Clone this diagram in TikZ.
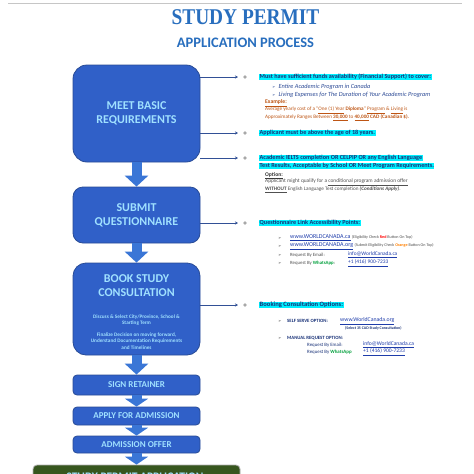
\documentclass[tikz,border=0pt]{standalone}
\usepackage{fontspec}
\setmainfont{Carlito}
\newfontfamily\titlefont{Liberation Serif}
\newfontfamily\symfont{DejaVu Sans}
\usetikzlibrary{arrows.meta}
\definecolor{boxblue}{RGB}{48,96,200}
\definecolor{boxedge}{RGB}{40,75,150}
\definecolor{arrowblue}{RGB}{58,118,214}
\definecolor{boxtext}{RGB}{160,225,255}
\definecolor{titleblue}{RGB}{40,110,190}
\definecolor{hlcyan}{RGB}{0,240,255}
\definecolor{hldark}{RGB}{25,50,120}
\definecolor{itblue}{RGB}{45,75,150}
\definecolor{brown}{RGB}{190,85,20}
\definecolor{graytext}{RGB}{80,80,80}
\definecolor{linkblue}{RGB}{30,60,170}
\definecolor{wagreen}{RGB}{0,160,60}
\definecolor{darkgreen}{RGB}{55,86,30}
\definecolor{conncol}{RGB}{50,80,150}
\newcommand{\hlbox}[1]{{\setlength{\fboxsep}{0.5pt}\colorbox{hlcyan}{\color{hldark}\bfseries #1}}}
\newcommand{\myfs}[1]{\fontsize{#1}{#1}\selectfont}
\newcommand{\arr}{{\symfont\myfs{4}➢}}
\tikzset{
  x=1pt, y=-1pt,
  mainbox/.style={draw=boxedge, line width=0.8pt, fill=boxblue, text=boxtext, inner sep=0pt,
    font=\bfseries\myfs{12}, align=center},
  smallbox/.style={mainbox, rounded corners=4pt, minimum width=127pt, font=\bfseries\myfs{9}},
  blockarrow/.style={draw=arrowblue, line width=10pt, -{Triangle[width=23pt,length=11pt]}},
  blockarrowshort/.style={draw=arrowblue, line width=10pt, -{Triangle[width=23pt,length=8pt]}},
  conn/.style={draw=conncol, line width=0.5pt, -{Stealth[length=3pt,width=3pt]}},
  bul/.style={circle, draw=graytext, line width=0.3pt, inner sep=0pt, minimum size=2.6pt},
  rt/.style={anchor=west, inner sep=0pt, font=\myfs{6.2}},
  boxsmall/.style={inner sep=0pt, text=boxtext, font=\bfseries\myfs{5.2}, align=center},
}
\begin{document}
\begin{tikzpicture}
\useasboundingbox[fill=white] (0,0) rectangle (474,474);
% top rule
\coordinate (ruleL) at (8,3);
\coordinate (ruleR) at (462,3);
\draw[gray!45, line width=0.8pt] (ruleL) -- (ruleR);
% titles
\node[inner sep=0pt, text=titleblue] (title) at (245.5,17.5)
  {\scalebox{0.86}[1]{\titlefont\bfseries\myfs{22.5}STUDY PERMIT}};
\node[inner sep=0pt, text=titleblue, font=\bfseries\myfs{14.5}] (subtitle) at (245.5,42.5) {APPLICATION PROCESS};

% right-side connector ends
\coordinate (t1) at (238,77);
\coordinate (t2) at (238,133);
\coordinate (t3) at (238,158);
\coordinate (t4) at (238,223);
\coordinate (t5) at (238,305);

% boxes
\node[mainbox, rounded corners=14pt, minimum width=127pt, minimum height=97pt] (b1) at (136.5,113.5) {MEET BASIC\\[2pt]REQUIREMENTS};
\node[mainbox, rounded corners=10pt, minimum width=127pt, minimum height=56pt] (b2) at (136.5,215) {SUBMIT\\[2pt]QUESTIONNAIRE};
\node[mainbox, rounded corners=13pt, minimum width=127pt, minimum height=92pt] (b3) at (136.5,309) {};
\node[inner sep=0pt, text=boxtext, font=\bfseries\myfs{12}, align=center] (b3t) at (136.5,285.5) {BOOK STUDY\\[2pt]CONSULTATION};
\node[boxsmall] (b3s1) at (136.5,320) {Discuss \& Select City/Province, School \&\\[1pt]Starting Term};
\node[boxsmall] (b3s2) at (136.5,341) {Finalize Decision on moving forward,\\[1pt]Understand Documentation Requirements\\[1pt]and Timelines};
\node[smallbox, minimum height=20pt] (b4) at (136.5,385) {SIGN RETAINER};
\node[smallbox, minimum height=18pt] (b5) at (136.5,416) {APPLY FOR ADMISSION};
\node[smallbox, minimum height=17pt] (b6) at (136.5,444.5) {ADMISSION OFFER};
\node[draw=gray!60, line width=0.8pt, fill=darkgreen, rounded corners=4pt, minimum width=207pt, minimum height=26pt, inner sep=0pt] (b7) at (136.5,478) {};
\node[inner sep=0pt, text=boxtext, font=\bfseries\myfs{11.5}] (b7t) at (135,477) {STUDY PERMIT APPLICATION};

% block arrows
\draw[blockarrow] (b1.south) -- (b2.north);
\draw[blockarrow] (b2.south) -- (b3.north);
\draw[blockarrow] (b3.south) -- (b4.north);
\draw[blockarrowshort] (b4.south) -- (b5.north);
\draw[blockarrowshort] (b5.south) -- (b6.north);
\draw[blockarrowshort] (b6.south) -- (b7.north);

% connectors
\draw[conn] (b1.east |- t1) -- (t1);
\draw[conn] (b1.east |- t2) -- (t2);
\draw[conn] (b1.east |- t3) -- (t3);
\draw[conn] (b2.east |- t4) -- (t4);
\draw[conn] (b3.east |- t5) -- (t5);
\node[bul] (o1) at (245,77) {};
\node[bul] (o2) at (245,133) {};
\node[bul] (o3) at (245,158) {};
\node[bul] (o4) at (245,223) {};
\node[bul] (o5) at (245,305) {};

% block 1 texts
\node[rt] (r1) at (259,77) {\hlbox{Must have sufficient funds availability (Financial Support) to cover:}};
\node[rt, text=itblue, font=\myfs{6.3}] (r1a) at (272,87) {\arr\hspace{3pt}\itshape Entire Academic Program in Canada};
\node[rt, text=itblue, font=\myfs{6.3}] (r1b) at (272,95) {\arr\hspace{3pt}\itshape Living Expenses for The Duration of Your Academic Program};
\node[rt, text=brown, font=\bfseries\myfs{5.7}] (r1c) at (265,103) {\underline{Example:}};
\node[rt, text=brown, font=\myfs{5.2}] (r1d) at (265,110.5) {Average yearly cost of a ``\underline{One (1) Year} \textbf{Diploma}'' \underline{Program} \& \underline{Living} is};
\node[rt, text=brown, font=\myfs{5.2}] (r1e) at (265,118) {Approximately Ranges Between \underline{\textbf{30,000}} to \underline{\textbf{40,000}} \textbf{CAD (Canadian \$).}};

% block 2
\node[rt] (r2) at (259,133) {\hlbox{Applicant must be above the age of 18 years.}};

% block 3
\node[rt] (r3a) at (259,158) {\hlbox{Academic IELTS completion OR CELPIP OR any English Language}};
\node[rt] (r3b) at (259,166.2) {\hlbox{Test Results, Acceptable by School OR Meet Program Requirements.}};
\node[rt, text=graytext!70!black, font=\bfseries\myfs{5.6}] (r3c) at (265,175.5) {\underline{Option:}};
\node[rt, text=graytext, font=\myfs{5.4}] (r3d) at (265,182.5) {Applicant might qualify for a \underline{conditional program admission offer}};
\node[rt, text=graytext, font=\myfs{5.2}] (r3e) at (265,189.5) {\underline{\textbf{WITHOUT}} English Language Test completion \textbf{\textit{(Conditions Apply)}}.};

% block 4
\node[rt] (r4) at (259,223) {\hlbox{Questionnaire Link Accessibility Points:}};
\node[rt, text=graytext] (r4a0) at (278,238) {\arr};
\node[rt, text=linkblue, font=\myfs{6}] (r4a) at (290,238) {\underline{www.WORLDCANADA.ca} {\color{graytext}\myfs{4.1}(Eligibility Check \textbf{\color{red}Red} Button On Top)}};
\node[rt, text=graytext] (r4b0) at (278,246.5) {\arr};
\node[rt, text=linkblue, font=\myfs{6}] (r4b) at (290,246.5) {\underline{www.WORLDCANADA.org} {\color{graytext}\myfs{4.1}(Submit Eligibility Check \textbf{\color{orange}Orange} Button On Top)}};
\node[rt, text=graytext] (r4c0) at (278,255) {\arr};
\node[rt, text=graytext, font=\myfs{4.8}] (r4c) at (290,255) {Request By Email:};
\node[rt, text=linkblue, font=\myfs{5.4}] (r4c2) at (348,255) {\underline{info@WorldCanada.ca}};
\node[rt, text=graytext] (r4d0) at (278,263) {\arr};
\node[rt, text=graytext, font=\myfs{4.8}] (r4d) at (290,263) {Request By \textbf{\color{wagreen}WhatsApp}:};
\node[rt, text=linkblue, font=\myfs{5.4}] (r4d2) at (348,263) {\underline{+1 (416) 900-7233}};

% block 5
\node[rt, font=\myfs{6.6}] (r5) at (259,305) {\hlbox{Booking Consultation Options:}};
\node[rt, text=graytext] (r5a0) at (278,321) {\arr};
\node[rt, text=hldark, font=\bfseries\myfs{4.8}] (r5a) at (287,321) {SELF SERVE OPTION:};
\node[rt, text=linkblue, font=\myfs{5.8}] (r5a2) at (340,321) {\underline{www.WorldCanada.org}};
\node[rt, text=hldark, font=\bfseries\myfs{3.9}] (r5a3) at (345,328) {(Select 35 CAD Study Consultation)};
\node[rt, text=graytext] (r5b0) at (278,338) {\arr};
\node[rt, text=hldark, font=\bfseries\myfs{4.8}] (r5b) at (287,338) {MANUAL REQUEST OPTION:};
\node[rt, text=hldark, font=\myfs{4.9}] (r5c) at (307,345) {Request By Email:};
\node[rt, text=linkblue, font=\myfs{5.6}] (r5c2) at (363,345) {\underline{info@WorldCanada.ca}};
\node[rt, text=hldark, font=\myfs{4.9}] (r5d) at (307,352) {Request By \textbf{\color{wagreen}WhatsApp}};
\node[rt, text=linkblue, font=\myfs{5.6}] (r5d2) at (363,352) {\underline{+1 (416) 900-7233}};
\end{tikzpicture}
\end{document}
